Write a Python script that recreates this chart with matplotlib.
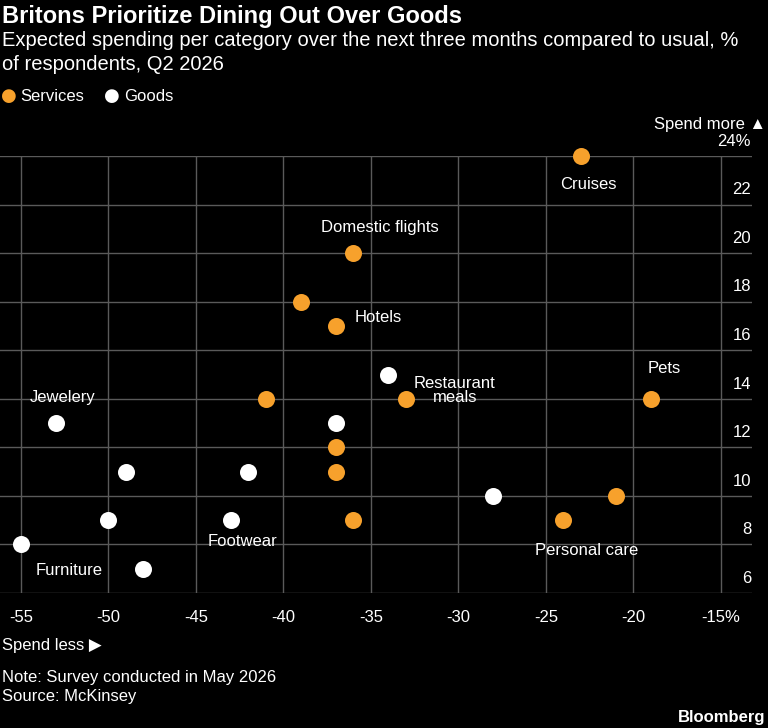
import matplotlib
matplotlib.use("Agg")
import matplotlib.pyplot as plt

plt.rcParams["font.family"] = ["Liberation Sans", "DejaVu Sans"]
plt.rcParams["axes.unicode_minus"] = False

ORANGE = "#F7A12C"
GRID = "#5a5a5a"

# Services
svc_names = ["Cruises", "Domestic flights", "", "Hotels", "", "Restaurant\nmeals", "Pets",
             "", "", "", "", "Personal care"]
svc_x = [-23, -36, -39, -37, -41, -33, -19, -37, -37, -36, -21, -24]
svc_y = [24, 20, 18, 17, 14, 14, 14, 12, 11, 9, 10, 9]

# Goods
gds_names = ["", "Jewelery", "", "", "", "", "Footwear", "", "Furniture", ""]
gds_x = [-34, -53, -37, -49, -42, -50, -43, -55, -48, -28]
gds_y = [15, 13, 13, 11, 11, 9, 9, 8, 7, 10]

# label offsets in pixels (dx, dy)
offsets = {
    "Cruises": (7, -28), "Domestic flights": (26, 26), "Hotels": (42, 8),
    "Restaurant\nmeals": (49, 8), "Pets": (13, 30), "Personal care": (23, -30),
    "Jewelery": (7, 26), "Footwear": (12, -21), "Furniture": (-74, -2),
}

xticks = [-55, -50, -45, -40, -35, -30, -25, -20, -15]
xlabels = ["-55", "-50", "-45", "-40", "-35", "-30", "-25", "-20", "-15%"]
yticks = [6, 8, 10, 12, 14, 16, 18, 20, 22, 24]
ylabels = ["6", "8", "10", "12", "14", "16", "18", "20", "22", "24%"]

FS = 12

fig = plt.figure(figsize=(7.68, 7.28), dpi=100, facecolor="black")
ax = fig.add_axes([0, 0.1854, 0.979, 0.6003], facecolor="black")
ax.set_xlim(-56.2, -13.23)
ax.set_ylim(6, 24)

for s in ax.spines.values():
    s.set_visible(False)
ax.set_xticks(xticks)
ax.set_xticklabels(xlabels, color="white", fontsize=FS)
ax.set_yticks(yticks)
ax.set_yticklabels([])
ax.tick_params(axis="x", length=0, pad=12)
ax.tick_params(axis="y", length=0)
ax.grid(True, color=GRID, linewidth=1)
ax.set_axisbelow(True)

for t, lab in zip(yticks, ylabels):
    ax.text(0.999, t + 0.3, lab, transform=ax.get_yaxis_transform(), ha="right", va="bottom",
            color="white", fontsize=FS)

ax.scatter(svc_x, svc_y, s=150, color=ORANGE, zorder=3, clip_on=False, linewidths=0)
ax.scatter(gds_x, gds_y, s=150, color="white", zorder=3, clip_on=False, linewidths=0)

for names, xs, ys in [(svc_names, svc_x, svc_y), (gds_names, gds_x, gds_y)]:
    for n, x, y in zip(names, xs, ys):
        if n:
            dx, dy = offsets[n]
            ax.annotate(n, (x, y), xytext=(dx, dy), textcoords="offset pixels",
                        ha="center", va="center", color="white", fontsize=FS,
                        linespacing=0.95)

fig.text(0.003, 0.978, "Britons Prioritize Dining Out Over Goods", color="white",
         fontsize=17, fontweight="bold", va="center", ha="left")
fig.text(0.003, 0.944, "Expected spending per category over the next three months compared to usual, %",
         color="white", fontsize=14.5, va="center", ha="left")
fig.text(0.003, 0.912, "of respondents, Q2 2026", color="white", fontsize=14.5, va="center", ha="left")

fig.text(0.011, 0.868, "\u25CF", color=ORANGE, fontsize=13, va="center", ha="center",
         family="DejaVu Sans")
fig.text(0.027, 0.868, "Services", color="white", fontsize=FS, va="center", ha="left")
fig.text(0.146, 0.868, "\u25CF", color="white", fontsize=13, va="center", ha="center",
         family="DejaVu Sans")
fig.text(0.162, 0.868, "Goods", color="white", fontsize=FS, va="center", ha="left")

fig.text(0.997, 0.829, "Spend more \u25B2", color="white", fontsize=FS, va="center", ha="right")
fig.text(0.003, 0.114, "Spend less \u25B6", color="white", fontsize=FS, va="center", ha="left")

fig.text(0.003, 0.070, "Note: Survey conducted in May 2026", color="white", fontsize=FS,
         va="center", ha="left")
fig.text(0.003, 0.043, "Source: McKinsey", color="white", fontsize=FS, va="center", ha="left")
fig.text(0.997, 0.014, "Bloomberg", color="white", fontsize=FS, fontweight="bold",
         va="center", ha="right")

fig.savefig("out.png", dpi=100, facecolor="black")
